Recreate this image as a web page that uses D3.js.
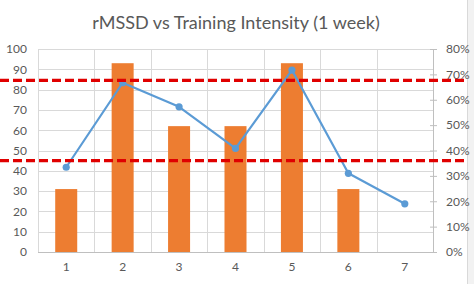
<!DOCTYPE html>
<html>
<head>
<meta charset="utf-8">
<script src="https://cdn.jsdelivr.net/npm/d3@7"></script>
<style>
  body { margin: 0; background: #fff; }
  svg text { font-family: Lato, "Open Sans", sans-serif; fill: #595959; }
</style>
</head>
<body>
<svg id="chart" width="474" height="284"></svg>
<script>
const days = ["1", "2", "3", "4", "5", "6", "7"];
const rmssd = [31, 93, 62, 62, 93, 31, null];
const intensity = [0.334, 0.667, 0.572, 0.408, 0.717, 0.31, 0.19];
const leftTicks = [0, 10, 20, 30, 40, 50, 60, 70, 80, 90, 100];
const rightTicks = [0, 0.1, 0.2, 0.3, 0.4, 0.5, 0.6, 0.7, 0.8];
const thresholds = [84.5, 45];

const w = 474, h = 284;
const m = { top: 49, right: 41, bottom: 32, left: 38 };
const iw = w - m.left - m.right, ih = h - m.top - m.bottom;

const svg = d3.select("#chart");

// right border strip
svg.append("rect").attr("x", 467).attr("y", 0).attr("width", 7).attr("height", h).attr("fill", "#f2f2f2");
svg.append("line").attr("x1", 467.5).attr("x2", 467.5).attr("y1", 0).attr("y2", h).attr("stroke", "#d9d9d9");

svg.append("text")
  .attr("x", 236).attr("y", 29)
  .attr("text-anchor", "middle")
  .style("font-size", "18px")
  .text("rMSSD vs Training Intensity (1 week)");

const g = svg.append("g").attr("transform", `translate(${m.left},${m.top})`);

const x = d3.scaleBand().domain(days).range([0, iw]).paddingInner(0).paddingOuter(0);
const y = d3.scaleLinear().domain([0, 100]).range([ih, 0]);
const y2 = d3.scaleLinear().domain([0, 0.8]).range([ih, 0]);

// horizontal grid
g.selectAll(".hg").data(leftTicks).enter().append("line")
  .attr("x1", 0).attr("x2", iw)
  .attr("y1", d => Math.round(y(d)) + 0.5).attr("y2", d => Math.round(y(d)) + 0.5)
  .attr("stroke", "#d9d9d9");

// vertical grid at category edges
g.selectAll(".vg").data(days).enter().append("line")
  .attr("x1", d => Math.round(x(d) + x.bandwidth()) + 0.5)
  .attr("x2", d => Math.round(x(d) + x.bandwidth()) + 0.5)
  .attr("y1", 0).attr("y2", ih)
  .attr("stroke", "#d9d9d9");
g.append("line").attr("x1", 0.5).attr("x2", 0.5).attr("y1", 0).attr("y2", ih).attr("stroke", "#d9d9d9");

// bars
const bw = x.bandwidth() * 0.39;
g.selectAll(".bar").data(days.map((d, i) => ({ d, v: rmssd[i] })).filter(o => o.v != null))
  .enter().append("rect")
  .attr("x", o => x(o.d) + (x.bandwidth() - bw) / 2)
  .attr("y", o => y(o.v))
  .attr("width", bw)
  .attr("height", o => ih - y(o.v))
  .attr("fill", "#ed7d31");

// bottom axis line
g.append("line").attr("x1", 0).attr("x2", iw).attr("y1", ih + 0.5).attr("y2", ih + 0.5).attr("stroke", "#bfbfbf");

// right axis
const ra = g.append("g").attr("transform", `translate(${iw},0)`)
  .call(d3.axisRight(y2).tickValues(rightTicks).tickFormat(d3.format(".0%")).tickSize(4).tickPadding(9));
ra.select(".domain").attr("stroke", "#bfbfbf");
ra.selectAll(".tick line").attr("stroke", "#bfbfbf").attr("x1", -3);
ra.selectAll("text").style("font-size", "12px").attr("fill", "#595959");

// left axis
const la = g.append("g")
  .call(d3.axisLeft(y).tickValues(leftTicks).tickSize(0).tickPadding(11));
la.select(".domain").remove();
la.selectAll("text").style("font-size", "12px").attr("fill", "#595959");

// x axis labels
const xa = g.append("g").attr("transform", `translate(0,${ih})`)
  .call(d3.axisBottom(x).tickSize(0).tickPadding(10));
xa.select(".domain").remove();
xa.selectAll("text").style("font-size", "12px").attr("fill", "#595959");

// line series
const line = d3.line().x((d, i) => x(days[i]) + x.bandwidth() / 2).y(d => y2(d));
g.append("path").datum(intensity)
  .attr("d", line).attr("fill", "none")
  .attr("stroke", "#5b9bd5").attr("stroke-width", 2.2).attr("stroke-linejoin", "round");
g.selectAll(".pt").data(intensity).enter().append("circle")
  .attr("cx", (d, i) => x(days[i]) + x.bandwidth() / 2)
  .attr("cy", d => y2(d))
  .attr("r", 3.6)
  .attr("fill", "#5b9bd5");

// red threshold lines across the whole chart
svg.selectAll(".thr").data(thresholds).enter().append("line")
  .attr("x1", 0).attr("x2", 468)
  .attr("y1", d => m.top + y(d)).attr("y2", d => m.top + y(d))
  .attr("stroke", "#e00000").attr("stroke-width", 3.2)
  .attr("stroke-dasharray", "9,4");
</script>
</body>
</html>
